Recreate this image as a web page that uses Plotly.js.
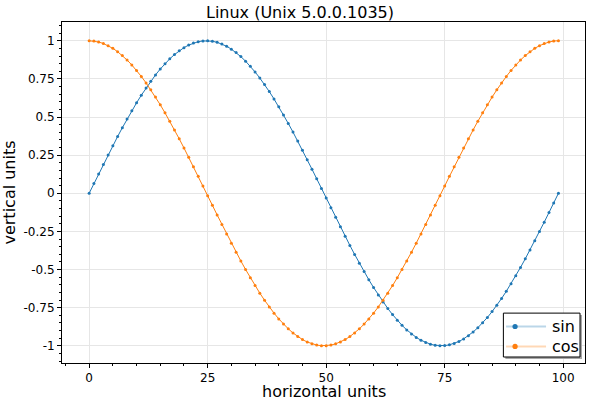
<!DOCTYPE html>
<html>
<head>
<meta charset="utf-8">
<script src="https://cdn.plot.ly/plotly-3.0.1.min.js"></script>
<style>html,body{margin:0;padding:0;background:#fff;}#chart{width:600px;height:400px;}</style>
</head>
<body>
<div id="chart"></div>
<script>
const xIndex = [0,1,2,3,4,5,6,7,8,9,10,11,12,13,14,15,16,17,18,19,20,21,22,23,24,25,26,27,28,29,30,31,32,33,34,35,36,37,38,39,40,41,42,43,44,45,46,47,48,49,50,51,52,53,54,55,56,57,58,59,60,61,62,63,64,65,66,67,68,69,70,71,72,73,74,75,76,77,78,79,80,81,82,83,84,85,86,87,88,89,90,91,92,93,94,95,96,97,98,99];

const sinValues = [0, 0.0634, 0.1266, 0.1893, 0.2511, 0.3120, 0.3717, 0.4298, 0.4862, 0.5406,
 0.5929, 0.6428, 0.6901, 0.7346, 0.7761, 0.8146, 0.8497, 0.8815, 0.9096, 0.9341,
 0.9549, 0.9718, 0.9848, 0.9938, 0.9989, 0.9999, 0.9969, 0.9898, 0.9788, 0.9638,
 0.9450, 0.9224, 0.8960, 0.8660, 0.8326, 0.7956, 0.7557, 0.7127, 0.6668, 0.6182,
 0.5671, 0.5137, 0.4582, 0.4009, 0.3420, 0.2817, 0.2203, 0.1580, 0.0951, 0.0317,
 -0.0317, -0.0951, -0.1580, -0.2203, -0.2817, -0.3420, -0.4009, -0.4582, -0.5137, -0.5671,
 -0.6182, -0.6668, -0.7127, -0.7557, -0.7956, -0.8326, -0.8660, -0.8960, -0.9224, -0.9450,
 -0.9638, -0.9788, -0.9898, -0.9969, -0.9999, -0.9989, -0.9938, -0.9848, -0.9718, -0.9549,
 -0.9341, -0.9096, -0.8815, -0.8497, -0.8146, -0.7761, -0.7346, -0.6901, -0.6428, -0.5929,
 -0.5406, -0.4862, -0.4298, -0.3717, -0.3120, -0.2511, -0.1893, -0.1266, -0.0634, 0];

const cosValues = [1, 0.9980, 0.9920, 0.9819, 0.9679, 0.9501, 0.9284, 0.9029, 0.8738, 0.8413,
 0.8053, 0.7660, 0.7237, 0.6785, 0.6306, 0.5801, 0.5272, 0.4723, 0.4154, 0.3569,
 0.2969, 0.2358, 0.1736, 0.1108, 0.0476, -0.0159, -0.0792, -0.1423, -0.2048, -0.2665,
 -0.3271, -0.3863, -0.4441, -0.5000, -0.5539, -0.6056, -0.6549, -0.7015, -0.7453, -0.7860,
 -0.8237, -0.8580, -0.8888, -0.9161, -0.9397, -0.9595, -0.9754, -0.9874, -0.9955, -0.9995,
 -0.9995, -0.9955, -0.9874, -0.9754, -0.9595, -0.9397, -0.9161, -0.8888, -0.8580, -0.8237,
 -0.7860, -0.7453, -0.7015, -0.6549, -0.6056, -0.5539, -0.5000, -0.4441, -0.3863, -0.3271,
 -0.2665, -0.2048, -0.1423, -0.0792, -0.0159, 0.0476, 0.1108, 0.1736, 0.2358, 0.2969,
 0.3569, 0.4154, 0.4723, 0.5272, 0.5801, 0.6306, 0.6785, 0.7237, 0.7660, 0.8053,
 0.8413, 0.8738, 0.9029, 0.9284, 0.9501, 0.9679, 0.9819, 0.9920, 0.9980, 1];

const seriesNames = ['sin', 'cos'];
const xTickVals = [0, 25, 50, 75, 100];
const xTickText = ['0', '25', '50', '75', '100'];
const yTickVals = [-1, -0.75, -0.5, -0.25, 0, 0.25, 0.5, 0.75, 1];
const yTickText = ['-1', '-0.75', '-0.5', '-0.25', '0', '0.25', '0.5', '0.75', '1'];

const FONT = 'DejaVu Sans, sans-serif';
const COLORS = ['#1f77b4', '#ff7f0e'];
const FADED = ['rgba(31,119,180,0.3)', 'rgba(255,127,14,0.3)'];
const seriesValues = [sinValues, cosValues];

const traces = seriesNames.map((n, i) => ({
  x: xIndex, y: seriesValues[i], name: n, mode: 'lines+markers', showlegend: false,
  line: {color: COLORS[i], width: 1}, marker: {color: COLORS[i], size: 3}
}));

const L = 61.5, R = 585, T = 21.5, B = 363.3;
const px2x = p => (p - L) / (R - L);
const py2y = p => (B - p) / (B - T);

// hand-built legend box (matches the compact reference legend)
const LG = {x0: 503.3, x1: 580, y0: 313.3, y1: 357.3, rowY: [326.7, 346.7], lineX0: 506, lineX1: 546, dotX: 515, textX: 550};
const shapes = [
  {type: 'rect', xref: 'paper', yref: 'paper', layer: 'above',
   x0: px2x(LG.x0 + 2), x1: px2x(LG.x1 + 2), y0: py2y(LG.y1 + 2), y1: py2y(LG.y0 + 2),
   fillcolor: '#a8a8a8', line: {width: 0}},
  {type: 'rect', xref: 'paper', yref: 'paper', layer: 'above',
   x0: px2x(LG.x0), x1: px2x(LG.x1), y0: py2y(LG.y1), y1: py2y(LG.y0),
   fillcolor: '#ffffff', line: {color: '#000', width: 1}}
];
const annotations = [];
seriesNames.forEach((n, i) => {
  const yy = LG.rowY[i];
  shapes.push({type: 'line', xref: 'paper', yref: 'paper', layer: 'above',
    x0: px2x(LG.lineX0), x1: px2x(LG.lineX1), y0: py2y(yy), y1: py2y(yy),
    line: {color: FADED[i], width: 2}});
  shapes.push({type: 'circle', xref: 'paper', yref: 'paper', layer: 'above',
    x0: px2x(LG.dotX - 2.6), x1: px2x(LG.dotX + 2.6), y0: py2y(yy + 2.6), y1: py2y(yy - 2.6),
    fillcolor: COLORS[i], line: {width: 0}});
  annotations.push({xref: 'paper', yref: 'paper', x: px2x(LG.textX), y: py2y(yy),
    xanchor: 'left', yanchor: 'middle', showarrow: false, text: n,
    font: {family: FONT, size: 16, color: '#000'}});
});
// x-axis title placed just under the tick labels
annotations.push({xref: 'paper', yref: 'paper', x: 0.5, y: py2y(392), xanchor: 'center', yanchor: 'middle',
  showarrow: false, text: 'horizontal units', font: {family: FONT, size: 16, color: '#000'}});

const layout = {
  width: 600, height: 400,
  margin: {l: L, r: 600 - R, t: T, b: 400 - B, pad: 0},
  paper_bgcolor: '#fff', plot_bgcolor: '#fff',
  font: {family: FONT, size: 12, color: '#000'},
  showlegend: false,
  title: {text: 'Linux (Unix 5.0.0.1035)', font: {family: FONT, size: 16, color: '#000'},
          x: 0.5, xref: 'container', xanchor: 'center', y: 1 - 12/400, yref: 'container', yanchor: 'middle'},
  xaxis: {
    range: [-5.73, 104.6], tickmode: 'array', tickvals: xTickVals, ticktext: xTickText,
    ticks: 'outside', ticklen: 4, tickwidth: 1, tickcolor: '#000',
    showline: true, linecolor: '#000', linewidth: 1, mirror: true,
    showgrid: true, gridcolor: '#e6e6e6', gridwidth: 1, zeroline: false,
    tickfont: {family: FONT, size: 12, color: '#000'},
    minor: {tickmode: 'linear', tick0: 0, dtick: 5, ticks: 'outside', ticklen: 2, tickcolor: '#000', showgrid: false}
  },
  yaxis: {
    range: [-1.113, 1.123], tickmode: 'array', tickvals: yTickVals, ticktext: yTickText,
    ticks: 'outside', ticklen: 4, tickwidth: 1, tickcolor: '#000',
    showline: true, linecolor: '#000', linewidth: 1, mirror: true,
    showgrid: true, gridcolor: '#e6e6e6', gridwidth: 1, zeroline: false,
    tickfont: {family: FONT, size: 12, color: '#000'},
    minor: {tickmode: 'linear', tick0: 0, dtick: 0.05, ticks: 'outside', ticklen: 2, tickcolor: '#000', showgrid: false},
    title: {text: 'vertical units', font: {family: FONT, size: 16, color: '#000'}, standoff: 4}
  },
  shapes: shapes,
  annotations: annotations
};

Plotly.newPlot('chart', traces, layout, {displayModeBar: false, staticPlot: true});
</script>
</body>
</html>
